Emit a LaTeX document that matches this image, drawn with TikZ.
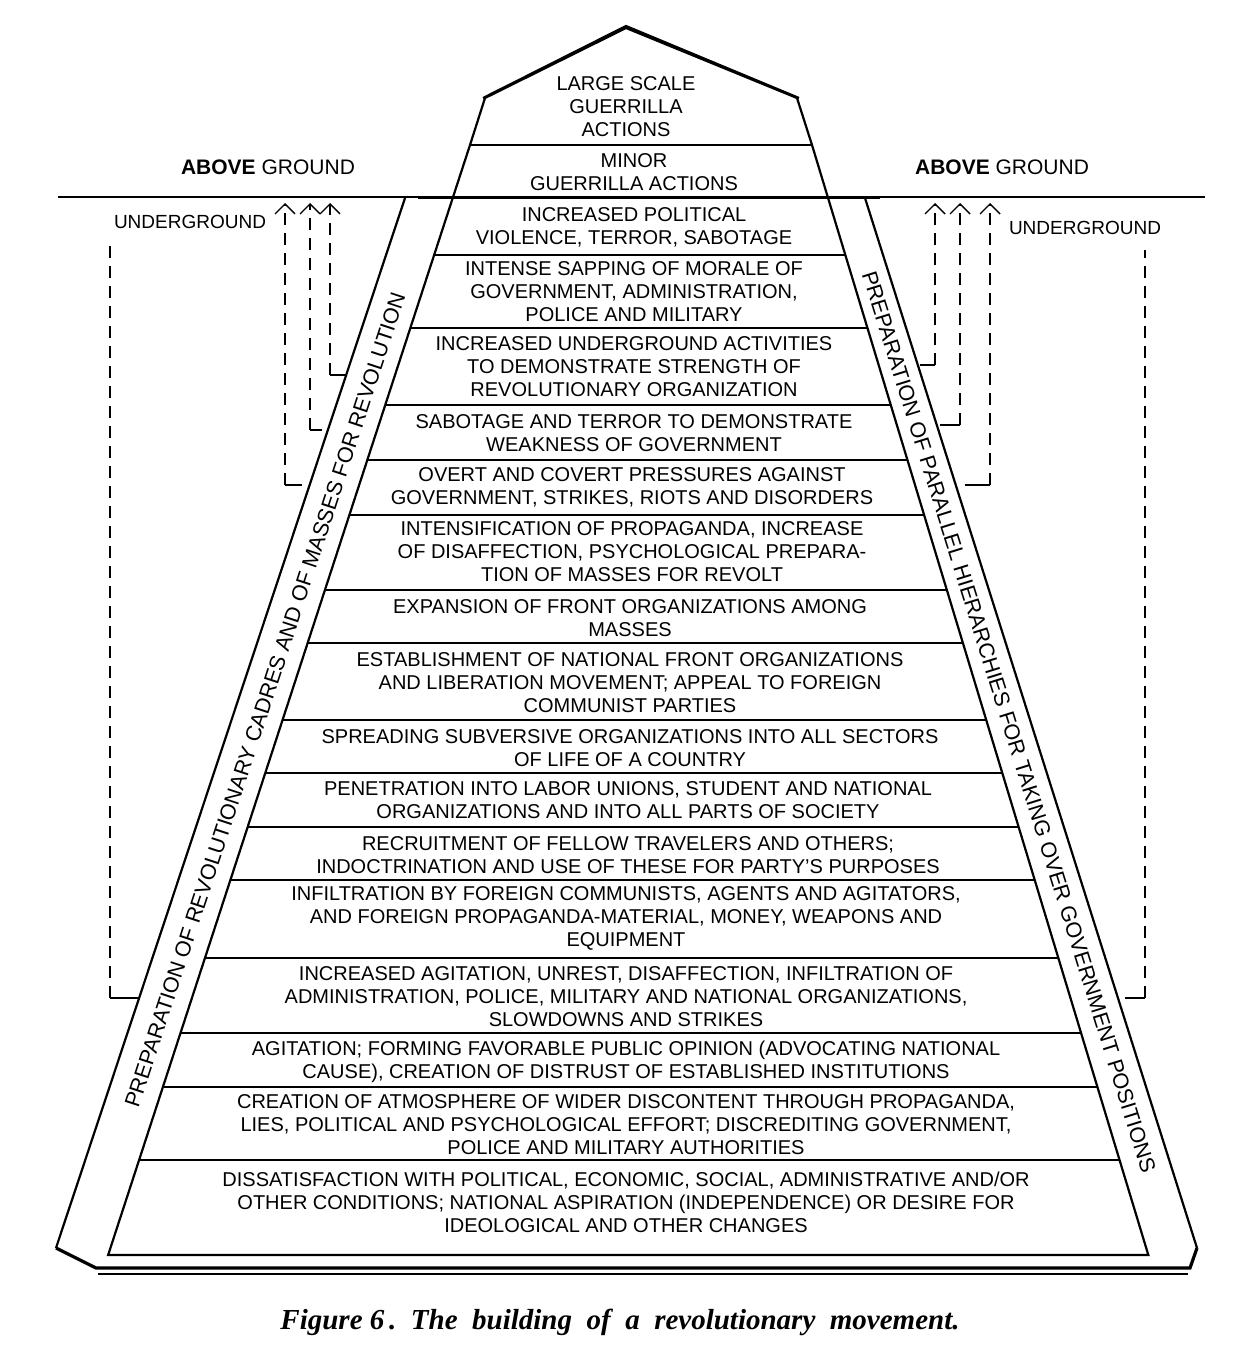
\documentclass[tikz,border=0pt]{standalone}
\usepackage{fontspec}
\setmainfont{Liberation Sans}
\newfontfamily\capfont{Liberation Serif}
\usetikzlibrary{arrows.meta}
\begin{document}
\begin{tikzpicture}[x=0.5pt,y=-0.5pt,
  row/.style={align=center,font=\fontsize{10}{11.5}\selectfont,inner sep=0pt},
  band/.style={font=\fontsize{10.8}{12}\selectfont,inner sep=0pt},
  dsh/.style={dashed,line width=0.7pt,dash pattern=on 6pt off 4pt},
  ln/.style={line width=1.1pt}]
\useasboundingbox (0,0) rectangle (1252,1354);
\def\lx#1{{470-0.326*(#1-145)}}
\def\rx#1{{812+0.303*(#1-145)}}
% ground line
\draw[ln] (58,197) -- (1205,197);
% pyramid outline
\draw[ln] (626,28) -- (485,98) -- (\lx{145},145) -- (\lx{1255},1255) -- (\rx{1255},1255) -- (\rx{145},145) -- (797,98) -- cycle;
\draw[ln] (483,98) -- (626,26) -- (799,98);
\foreach \y in {145,198,255,328,405,460,515,590,643,720,773,827,880,958,1033,1087,1160}
  \draw[line width=0.9pt] (\lx{\y},\y) -- (\rx{\y},\y);
% bands
\draw[ln] (405,198) -- (56,1248);
\draw[ln] (418,198) -- (\lx{198},198);
\draw[ln] (865,198) -- (1197,1248);
\draw[ln] (880,198) -- (\rx{198},198);
\draw[line width=1.6pt] (56,1248) -- (96,1268) -- (1190,1268) -- (1197,1248);
\draw[line width=0.8pt] (98,1274) -- (1188,1274);
% band texts
\node[band,rotate=71.8] (lb) at (265,700) {PREPARATION OF REVOLUTIONARY CADRES AND OF MASSES FOR REVOLUTION};
\node[band,rotate=-72.7] (rb) at (1009,722) {PREPARATION OF PARALLEL HIERARCHIES FOR TAKING OVER GOVERNMENT POSITIONS};
% above ground labels
\node[font=\fontsize{10.5}{12}\selectfont] (ag1) at (268,167) {\textbf{ABOVE} GROUND};
\node[font=\fontsize{10.5}{12}\selectfont] (ag2) at (1002,167) {\textbf{ABOVE} GROUND};
\node[font=\fontsize{9.5}{11}\selectfont] (ug1) at (190,222) {UNDERGROUND};
\node[font=\fontsize{9.5}{11}\selectfont] (ug2) at (1085,228) {UNDERGROUND};
% left dashed
\coordinate (a1) at (110,240); \coordinate (a1b) at (110,998);
\draw[dsh] (a1b) -- (a1);
\draw[line width=0.8pt] (a1b) -- (138,998);
\foreach \x/\yy/\xe in {285/485/302, 310/430/322, 330/375/345}{
  \draw[dsh,-{Straight Barb[length=5pt]}] (\x,\yy) -- (\x,203);
  \draw[line width=0.8pt] (\x,\yy) -- (\xe,\yy);
}
% right dashed
\foreach \x/\yy/\xe in {935/365/920, 960/425/940, 990/485/965}{
  \draw[dsh,-{Straight Barb[length=5pt]}] (\x,\yy) -- (\x,203);
  \draw[line width=0.8pt] (\x,\yy) -- (\xe,\yy);
}
\draw[dsh] (1145,998) -- (1145,250);
\draw[line width=0.8pt] (1145,998) -- (1125,998);
% rows
\node[row] (r1) at (626,107) {LARGE SCALE\\GUERRILLA\\ACTIONS};
\node[row] (r2) at (634,172) {MINOR\\GUERRILLA ACTIONS};
\node[row] (r3) at (634,227) {INCREASED POLITICAL\\VIOLENCE, TERROR, SABOTAGE};
\node[row] (r4) at (634,292) {INTENSE SAPPING OF MORALE OF\\GOVERNMENT, ADMINISTRATION,\\POLICE AND MILITARY};
\node[row] (r5) at (634,367) {INCREASED UNDERGROUND ACTIVITIES\\TO DEMONSTRATE STRENGTH OF\\REVOLUTIONARY ORGANIZATION};
\node[row] (r6) at (634,433) {SABOTAGE AND TERROR TO DEMONSTRATE\\WEAKNESS OF GOVERNMENT};
\node[row] (r7) at (632,487) {OVERT AND COVERT PRESSURES AGAINST\\GOVERNMENT, STRIKES, RIOTS AND DISORDERS};
\node[row] (r8) at (632,552) {INTENSIFICATION OF PROPAGANDA, INCREASE\\OF DISAFFECTION, PSYCHOLOGICAL PREPARA-\\TION OF MASSES FOR REVOLT};
\node[row] (r9) at (630,618) {EXPANSION OF FRONT ORGANIZATIONS AMONG\\MASSES};
\node[row] (r10) at (630,683) {ESTABLISHMENT OF NATIONAL FRONT ORGANIZATIONS\\AND LIBERATION MOVEMENT; APPEAL TO FOREIGN\\COMMUNIST PARTIES};
\node[row] (r11) at (630,748) {SPREADING SUBVERSIVE ORGANIZATIONS INTO ALL SECTORS\\OF LIFE OF A COUNTRY};
\node[row] (r12) at (628,800) {PENETRATION INTO LABOR UNIONS, STUDENT AND NATIONAL\\ORGANIZATIONS AND INTO ALL PARTS OF SOCIETY};
\node[row] (r13) at (628,855) {RECRUITMENT OF FELLOW TRAVELERS AND OTHERS;\\INDOCTRINATION AND USE OF THESE FOR PARTY'S PURPOSES};
\node[row] (r14) at (626,918) {INFILTRATION BY FOREIGN COMMUNISTS, AGENTS AND AGITATORS,\\AND FOREIGN PROPAGANDA-MATERIAL, MONEY, WEAPONS AND\\EQUIPMENT};
\node[row] (r15) at (626,997) {INCREASED AGITATION, UNREST, DISAFFECTION, INFILTRATION OF\\ADMINISTRATION, POLICE, MILITARY AND NATIONAL ORGANIZATIONS,\\SLOWDOWNS AND STRIKES};
\node[row] (r16) at (626,1062) {AGITATION; FORMING FAVORABLE PUBLIC OPINION (ADVOCATING NATIONAL\\CAUSE), CREATION OF DISTRUST OF ESTABLISHED INSTITUTIONS};
\node[row] (r17) at (626,1125) {CREATION OF ATMOSPHERE OF WIDER DISCONTENT THROUGH PROPAGANDA,\\LIES, POLITICAL AND PSYCHOLOGICAL EFFORT; DISCREDITING GOVERNMENT,\\POLICE AND MILITARY AUTHORITIES};
\node[row] (r18) at (626,1202) {DISSATISFACTION WITH POLITICAL, ECONOMIC, SOCIAL, ADMINISTRATIVE AND/OR\\OTHER CONDITIONS; NATIONAL ASPIRATION (INDEPENDENCE) OR DESIRE FOR\\IDEOLOGICAL AND OTHER CHANGES};
% caption
\node[font=\capfont\fontsize{14.5}{16}\selectfont\bfseries\itshape] (cap) at (620,1322) {Figure 6\,.\ \ The\ \ building\ \ of\ \ a\ \ revolutionary\ \ movement.};
\end{tikzpicture}
\end{document}
